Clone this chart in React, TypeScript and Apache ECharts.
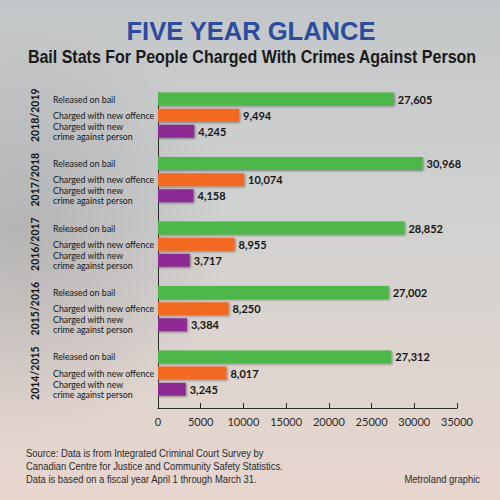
import React, { useEffect, useRef } from 'react';
import * as echarts from 'echarts';

// ---- data ----
const years = ['2018/2019', '2017/2018', '2016/2017', '2015/2016', '2014/2015'];
const metrics = ['Released on bail', 'Charged with new offence', 'Charged with new\ncrime against person'];
const releasedOnBail = [27605, 30968, 28852, 27002, 27312];
const chargedNewOffence = [9494, 10074, 8955, 8250, 8017];
const chargedCrimeAgainstPerson = [4245, 4158, 3717, 3384, 3245];
const seriesColors = ['#4db848', '#f26b22', '#8d2a93'];
const xTickMin = 0;
const xTickMax = 35000;
const xTickInterval = 5000;

const FA = 'Lato, "Liberation Sans", sans-serif';
const FT = '"Liberation Sans", Arial, sans-serif';

// build 19 slots: 3 bars per year + 1 empty slot between groups
const slotsPerGroup = 4;
const nSlots = years.length * slotsPerGroup - 1;
const slotIds = Array.from({ length: nSlots }, (_, i) => 's' + i);
const slotLabels = slotIds.map((_, i) => (i % slotsPerGroup < 3 ? metrics[i % slotsPerGroup] : ''));
const slotYears = slotIds.map((_, i) => (i % slotsPerGroup === 1 ? years[Math.floor(i / slotsPerGroup)] : ''));
const allValues = [releasedOnBail, chargedNewOffence, chargedCrimeAgainstPerson];
const seriesData = allValues.map((vals, m) =>
  slotIds.map((_, i) => (i % slotsPerGroup === m ? vals[Math.floor(i / slotsPerGroup)] : '-'))
);

export default function App() {
  const ref = useRef<HTMLDivElement>(null);
  useEffect(() => {
    const chart = echarts.init(ref.current!, null, { renderer: 'svg' });
    const option: any = {
      animation: false,
      backgroundColor: {
        type: 'linear', x: 0, y: 0, x2: 0, y2: 1,
        colorStops: [
          { offset: 0, color: '#c3c6c8' },
          { offset: 0.4, color: '#d0d1d1' },
          { offset: 0.7, color: '#ddd4cf' },
          { offset: 1, color: '#e7d6ce' },
        ],
      },
      grid: [
        { left: 158, right: 43, top: 91, height: 306.3 },
        { left: 158, right: 43, top: 92.5, height: 315.5 },
      ],
      xAxis: [
        { gridIndex: 0, type: 'value', min: xTickMin, max: xTickMax, show: false },
        {
          gridIndex: 1, type: 'value', min: xTickMin, max: xTickMax, interval: xTickInterval,
          axisLine: { show: true, lineStyle: { color: '#2a2a2a', width: 1 } },
          axisTick: { show: true, inside: true, length: 5, lineStyle: { color: '#2a2a2a' } },
          axisLabel: {
            margin: 8, fontFamily: FA, fontSize: 11, color: '#2a2a2a',
            formatter: (v: number) => String(v),
          },
          splitLine: { show: false },
        },
      ],
      yAxis: [
        {
          gridIndex: 0, type: 'category', data: slotIds, inverse: true, position: 'left',
          axisLine: { show: false }, axisTick: { show: false },
          axisLabel: {
            interval: 0,
            formatter: (_v: string, i: number) => (slotLabels[i] ? '{m|' + slotLabels[i].split('\n').join('}\n{m|') + '}' : ''),
            align: 'right', margin: 0,
            rich: {
              m: { width: 105, align: 'left', fontFamily: FA, fontSize: 8.8, lineHeight: 10, color: '#151515' },
            },
          },
        },
        {
          gridIndex: 0, type: 'category', data: slotIds, inverse: true, position: 'left', offset: 0,
          axisLine: { show: false }, axisTick: { show: false },
          axisLabel: {
            interval: 0, formatter: (_v: string, i: number) => slotYears[i], rotate: 90,
            align: 'center', verticalAlign: 'middle', margin: 123.5,
            fontFamily: FA, fontSize: 10.5, fontWeight: 'bold', color: '#151515',
          },
        },
        {
          gridIndex: 1, type: 'category', data: [''],
          axisLine: { show: true, lineStyle: { color: '#2a2a2a', width: 1 } },
          axisTick: { show: false }, axisLabel: { show: false },
        },
      ],
      series: seriesData.map((d, m) => ({
        type: 'bar', name: metrics[m], xAxisIndex: 0, yAxisIndex: 0, data: d,
        barWidth: 13, barGap: '-100%',
        itemStyle: {
          color: seriesColors[m], shadowBlur: 2, shadowColor: 'rgba(0,0,0,0.4)',
          shadowOffsetX: 1, shadowOffsetY: 1,
        },
        label: {
          show: true, position: 'right', distance: 4,
          formatter: (p: any) => Number(p.value).toLocaleString('en-US'),
          fontFamily: FA, fontSize: 11, fontWeight: 'bold', color: '#151515',
        },
      })),
      graphic: [
        {
          type: 'circle', z: -10, silent: true,
          shape: { cx: 20, cy: 230, r: 210 },
          style: {
            fill: {
              type: 'radial', x: 0.5, y: 0.5, r: 0.5,
              colorStops: [
                { offset: 0, color: 'rgba(105,105,108,0.28)' },
                { offset: 0.6, color: 'rgba(105,105,108,0.12)' },
                { offset: 1, color: 'rgba(105,105,108,0)' },
              ],
            },
          },
        },
        {
          type: 'text', x: 251, y: 31,
          style: {
            text: 'FIVE YEAR GLANCE', textAlign: 'center', textVerticalAlign: 'middle',
            fontFamily: FT, fontSize: 25.5, fontWeight: 'bold', fill: '#2c4c9f',
          },
        },
        {
          type: 'text', x: 252, y: 57, scaleX: 0.89,
          style: {
            text: 'Bail Stats For People Charged With Crimes Against Person', textAlign: 'center', textVerticalAlign: 'middle',
            fontFamily: FT, fontSize: 18, fontWeight: 'bold', fill: '#1a1a1a',
          },
        },
        {
          type: 'text', x: 26, y: 466, scaleX: 0.895,
          style: {
            text: 'Source: Data is from Integrated Criminal Court Survey by\nCanadian Centre for Justice and Community Safety Statistics.\nData is based on a fiscal year April 1 through March 31.',
            textVerticalAlign: 'middle',
            fontFamily: FT, fontSize: 10.5, lineHeight: 13, fill: '#2a2a2a',
          },
        },
        {
          type: 'text', x: 480, y: 479, scaleX: 0.9,
          style: { text: 'Metroland graphic', textAlign: 'right', textVerticalAlign: 'middle', fontFamily: FT, fontSize: 10.5, fill: '#2a2a2a' },
        },
      ],
    };
    chart.setOption(option);
    return () => { chart.dispose(); };
  }, []);
  return <div ref={ref} style={{ position: 'fixed', left: 0, top: 0, width: 500, height: 500 }} />;
}
